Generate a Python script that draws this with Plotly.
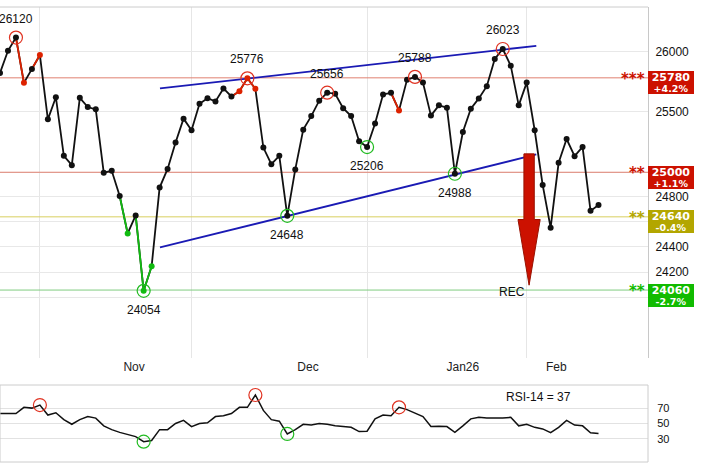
import math
import plotly.graph_objects as go

# ---------------- data ----------------
day_index = list(range(-1, 76))
prices = [25600,
          25821, 26008, 26120, 25738, 25855, 25972, 25434, 25618, 25134, 25058,
          25613, 25536, 25517, 24997, 25012, 24808, 24507, 24651, 24054, 24247,
          24876, 25027, 25243, 25440, 25344, 25564, 25610, 25583, 25691, 25624,
          25668, 25776, 25688, 25202, 25066, 25134, 24648, 25023, 25349, 25461,
          25589, 25656, 25647, 25527, 25461, 25254, 25206, 25399, 25641, 25655,
          25508, 25763, 25788, 25740, 25465, 25550, 25531, 24988, 25329, 25522,
          25608, 25710, 25939, 26023, 25882, 25550, 25740, 25344, 24897, 24553,
          25077, 25272, 25131, 25207, 24688, 24735]
# point colour code: k = normal, r = sell signal, g = buy signal
point_flags = (['k'] + ['k', 'k', 'k', 'r', 'k', 'r'] + ['k'] * 10 + ['g', 'k', 'g', 'g']
               + ['k'] * 10 + ['r', 'r', 'r'] + ['k'] * 17 + ['r'] + ['k'] * 25)
rsi = [62,
       63, 63, 63, 71, 70, 74, 61, 64, 55, 49, 55, 59, 57, 47, 42, 38.5, 36, 33, 26.4, 28,
       42, 42, 50, 54, 46, 50, 51, 59, 60, 63, 71, 71, 87, 67, 55, 53, 36.4, 42, 49, 48,
       50, 49, 47, 46, 45, 39.5, 40, 56, 61, 60, 71, 68, 64, 59, 46, 46.5, 46, 38.5, 47,
       56, 58, 57, 57, 57, 58, 47, 49, 45, 43, 38, 45, 54, 48, 47, 38, 37]

peak_idx = [2, 31, 41, 52, 63]
trough_idx = [18, 36, 46, 57]
rsi_peak_idx = [5, 32, 50]
rsi_trough_idx = [18, 36]

upper_trend_x = [20.05, 67.2]
upper_trend_y = [25691, 26050]
lower_trend_x = [20.05, 67.2]
lower_trend_y = [24396, 25145]

rec_x = 66.3
rec_from = 25150
rec_to = 24098
rec_label = "REC"

levels = [25780, 25000, 24640, 24060]
level_stars = ["***", "**", "**", "**"]
level_pcts = ["+4.2%", "+1.1%", "-0.4%", "-2.7%"]

month_pos = [16.8, 38.6, 58.0, 69.7]
month_labels = ["Nov", "Dec", "Jan26", "Feb"]
week_grid = [5, 24, 46, 66]

y_tickvals = [24000, 24200, 24400, 24600, 24800, 25000, 25500, 26000]
y_ticktext = ["", "24200", "24400", "", "24800", "", "25500", "26000"]
rsi_ticks = [30, 50, 70]

# ---------------- styles ----------------
FONT = "Liberation Sans, Arial, sans-serif"
BLACK = "#111111"
RED = "#dd2200"
GREEN = "#11bb11"
BLUE = "#1a1ab4"
level_box_colors = ["#cc1100", "#cc1100", "#b3a600", "#11bb00"]
level_line_colors = ["#e08070", "#e08070", "#d8cf60", "#80cc80"]
flag_color = {"k": BLACK, "r": RED, "g": GREEN}

fig = go.Figure()

# level lines
for lvl, lc in zip(levels, level_line_colors):
    fig.add_trace(go.Scatter(x=[-5, 90], y=[lvl, lvl], mode="lines",
                             line=dict(color=lc, width=1), hoverinfo="skip",
                             xaxis="x", yaxis="y"))

# trend lines
fig.add_trace(go.Scatter(x=upper_trend_x, y=upper_trend_y, mode="lines",
                         line=dict(color=BLUE, width=1.8), xaxis="x", yaxis="y"))
fig.add_trace(go.Scatter(x=lower_trend_x, y=lower_trend_y, mode="lines",
                         line=dict(color=BLUE, width=1.8), xaxis="x", yaxis="y"))

# price line (black) + coloured segments
fig.add_trace(go.Scatter(x=day_index, y=prices, mode="lines",
                         line=dict(color=BLACK, width=1.8), xaxis="x", yaxis="y"))
for flag, col in (("r", RED), ("g", GREEN)):
    sx, sy = [], []
    for k in range(1, len(prices)):
        if point_flags[k] == flag:
            sx += [day_index[k - 1], day_index[k], None]
            sy += [prices[k - 1], prices[k], None]
    fig.add_trace(go.Scatter(x=sx, y=sy, mode="lines",
                             line=dict(color=col, width=1.8), xaxis="x", yaxis="y"))
fig.add_trace(go.Scatter(x=day_index, y=prices, mode="markers",
                         marker=dict(size=6, color=[flag_color[f] for f in point_flags]),
                         xaxis="x", yaxis="y"))

# circles on turning points
def circles(idx, series, col, ya, size):
    return go.Scatter(x=[day_index[i + 1] for i in idx], y=[series[i + 1] for i in idx],
                      mode="markers", xaxis="x", yaxis=ya,
                      marker=dict(symbol="circle-open", size=size, color=col,
                                  line=dict(width=1.2, color=col)))

fig.add_trace(circles(peak_idx, prices, "#e03322", "y", 13))
fig.add_trace(circles(trough_idx, prices, "#22bb22", "y", 13))

# REC arrow
lt, lf = math.log10(rec_to), math.log10(rec_from)
head_base = 10 ** (lt + 0.5 * (lf - lt))
sh, hh = 0.65, 1.39
ax_ = [rec_x - sh, rec_x + sh, rec_x + sh, rec_x + hh, rec_x, rec_x - hh, rec_x - sh, rec_x - sh]
ay_ = [rec_from, rec_from, head_base, head_base, rec_to, head_base, head_base, rec_from]
fig.add_trace(go.Scatter(x=ax_, y=ay_, mode="lines", fill="toself", fillcolor="#cc1100",
                         line=dict(color="#991100", width=1), xaxis="x", yaxis="y"))

# RSI
fig.add_trace(go.Scatter(x=day_index, y=rsi, mode="lines",
                         line=dict(color=BLACK, width=1.5), xaxis="x2", yaxis="y2"))
fig.add_trace(go.Scatter(x=[day_index[i + 1] for i in rsi_peak_idx],
                         y=[rsi[i + 1] for i in rsi_peak_idx], mode="markers",
                         xaxis="x2", yaxis="y2",
                         marker=dict(symbol="circle-open", size=13, color="#e03322",
                                     line=dict(width=1.2, color="#e03322"))))
fig.add_trace(go.Scatter(x=[day_index[i + 1] for i in rsi_trough_idx],
                         y=[rsi[i + 1] for i in rsi_trough_idx], mode="markers",
                         xaxis="x2", yaxis="y2",
                         marker=dict(symbol="circle-open", size=13, color="#22bb22",
                                     line=dict(width=1.2, color="#22bb22"))))

# value labels at turning points
for i in peak_idx:
    fig.add_annotation(x=day_index[i + 1], y=math.log10(prices[i + 1]), xref="x", yref="y",
                       text=f"{prices[i + 1]}", showarrow=False, yshift=19,
                       font=dict(family=FONT, size=12, color=BLACK))
for i in trough_idx:
    fig.add_annotation(x=day_index[i + 1], y=math.log10(prices[i + 1]), xref="x", yref="y",
                       text=f"{prices[i + 1]}", showarrow=False, yshift=-19,
                       font=dict(family=FONT, size=12, color=BLACK))

fig.add_annotation(x=rec_x - 2.2, y=math.log10(levels[-1]), xref="x", yref="y",
                   text=rec_label, showarrow=False, yshift=-1.5,
                   font=dict(family=FONT, size=12, color=BLACK))

# level markers on the right
for lvl, stars, pct, bc in zip(levels, level_stars, level_pcts, level_box_colors):
    ly = math.log10(lvl)
    fig.add_annotation(x=1, y=ly, xref="paper", yref="y", xanchor="right", yanchor="middle",
                       text=f"<b>{stars}</b>", showarrow=False, xshift=-1, yshift=-1,
                       font=dict(family="DejaVu Sans", size=15, color=bc))
    fig.add_annotation(x=1, y=ly, xref="paper", yref="y", xanchor="left", yanchor="top",
                       yshift=6.5, width=46, height=12, bgcolor=bc, borderpad=0,
                       borderwidth=0, text=f"<b>{lvl}</b>", showarrow=False,
                       align="center", valign="middle",
                       font=dict(family="DejaVu Sans", size=11, color="white"))
    fig.add_annotation(x=1, y=ly, xref="paper", yref="y", xanchor="left", yanchor="top",
                       yshift=-5.5, width=46, height=11, bgcolor=bc, borderpad=0,
                       borderwidth=0, text=f"<b>{pct}</b>", showarrow=False,
                       align="center", valign="middle",
                       font=dict(family="DejaVu Sans", size=9.5, color="white"))

fig.add_annotation(x=0.884, y=85, xref="paper", yref="y2", text=f"RSI-14 = {rsi[-1]:.0f}",
                   showarrow=False, font=dict(family=FONT, size=12, color=BLACK))

# borders
fig.add_shape(type="line", xref="paper", yref="paper", x0=0, x1=1, y0=1, y1=1,
              line=dict(color="#cccccc", width=1))
fig.add_shape(type="rect", xref="paper", yref="y2 domain", x0=0, x1=1, y0=0, y1=1,
              line=dict(color="#cccccc", width=1))

fig.update_layout(
    width=704, height=468,
    margin=dict(l=0, r=56, t=7, b=6),
    paper_bgcolor="white", plot_bgcolor="white",
    showlegend=False,
    font=dict(family=FONT, size=12, color=BLACK),
    xaxis=dict(domain=[0, 1], range=[0, 81.2], anchor="y", showgrid=False,
               zeroline=False, showline=False, tickmode="array", tickvals=month_pos,
               ticktext=month_labels, ticks="", tickfont=dict(size=12, color="#222"),
               minor=dict(tickmode="array", tickvals=week_grid, showgrid=True,
                          gridcolor="#e6e6e6", gridwidth=1, ticks="")),
    xaxis2=dict(domain=[0, 1], range=[0, 81.2], anchor="y2", matches="x",
                showgrid=False, zeroline=False, showticklabels=False, ticks=""),
    yaxis=dict(type="log", domain=[0.2286, 1],
               range=[math.log10(23534), math.log10(26381)],
               side="right", tickmode="array", tickvals=y_tickvals, ticktext=y_ticktext,
               showgrid=True, gridcolor="#e8e8e8", zeroline=False,
               showline=True, linecolor="#c8c8c8", ticks="outside", ticklen=4,
               tickcolor="rgba(0,0,0,0)", tickfont=dict(size=12, color="#111")),
    yaxis2=dict(domain=[0, 0.1692], range=[0, 100], side="right", anchor="x2",
                tickmode="array", tickvals=rsi_ticks, showgrid=True, gridcolor="#e2e2e2",
                zeroline=False, showline=False, ticks="outside", ticklen=6,
                tickcolor="rgba(0,0,0,0)", tickfont=dict(size=11, color="#111")),
)

fig.write_html("out.html")
